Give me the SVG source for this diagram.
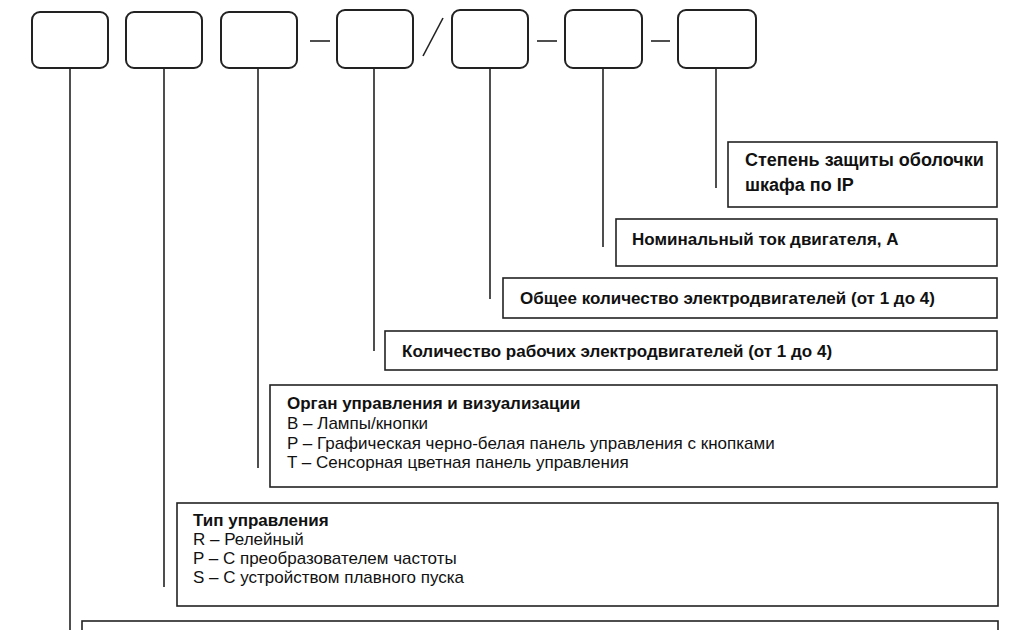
<svg xmlns="http://www.w3.org/2000/svg" width="1024" height="630" viewBox="0 0 1024 630">
<style>
.code{fill:#fff;stroke:#222;stroke-width:2}
.box{fill:#fff;stroke:#222;stroke-width:1.6}
.ln{stroke:#222;stroke-width:1.6;fill:none}
.b{font-family:"Liberation Sans",Arial,sans-serif;font-weight:bold;font-size:17px;fill:#111}
.big{font-size:18px}
.r{font-family:"Liberation Sans",Arial,sans-serif;font-size:17px;fill:#111}
</style>
<rect width="1024" height="630" fill="#fff"/>
<g id="code-boxes">
<rect id="c1" class="code" x="32" y="12" width="76" height="56" rx="8"/>
<rect id="c2" class="code" x="126" y="12" width="76" height="56" rx="8"/>
<rect id="c3" class="code" x="221" y="12" width="76" height="56" rx="8"/>
<rect id="c4" class="code" x="337" y="10" width="76" height="58" rx="8"/>
<rect id="c5" class="code" x="452" y="10" width="76" height="58" rx="8"/>
<rect id="c6" class="code" x="565" y="10" width="77" height="58" rx="8"/>
<rect id="c7" class="code" x="678" y="10" width="78" height="58" rx="8"/>
</g>
<g id="separators" class="ln" stroke-width="2">
<line x1="310" y1="41" x2="330" y2="41"/>
<line x1="423" y1="56" x2="443" y2="18"/>
<line x1="537" y1="41" x2="557" y2="41"/>
<line x1="651" y1="41" x2="670" y2="41"/>
</g>
<g id="connectors" class="ln">
<line x1="70" y1="68" x2="70" y2="630"/>
<line x1="164" y1="68" x2="164" y2="587"/>
<line x1="258" y1="68" x2="258" y2="468"/>
<line x1="374" y1="68" x2="374" y2="351"/>
<line x1="490" y1="68" x2="490" y2="299"/>
<line x1="603" y1="68" x2="603" y2="247"/>
<line x1="716" y1="68" x2="716" y2="188"/>
</g>
<g id="n-ip">
<rect class="box" x="728" y="142" width="269" height="65"/>
<text class="b big" x="745" y="166">Степень защиты оболочки</text>
<text class="b big" x="745" y="191">шкафа по IP</text>
</g>
<g id="n-current">
<rect class="box" x="616" y="219" width="381" height="47"/>
<text class="b" x="632" y="245">Номинальный ток двигателя, А</text>
</g>
<g id="n-total">
<rect class="box" x="503" y="278" width="494" height="40"/>
<text class="b" x="520" y="304">Общее количество электродвигателей (от 1 до 4)</text>
</g>
<g id="n-working">
<rect class="box" x="385" y="331" width="612" height="39"/>
<text class="b" x="402" y="357">Количество рабочих электродвигателей (от 1 до 4)</text>
</g>
<g id="n-control">
<rect class="box" x="270" y="385" width="727" height="102"/>
<text class="b" x="287" y="409">Орган управления и визуализации</text>
<text class="r" x="287" y="429">B – Лампы/кнопки</text>
<text class="r" x="287" y="449">P – Графическая черно-белая панель управления с кнопками</text>
<text class="r" x="287" y="468">T – Сенсорная цветная панель управления</text>
</g>
<g id="n-type">
<rect class="box" x="177" y="503" width="821" height="103"/>
<text class="b" x="193" y="526">Тип управления</text>
<text class="r" x="193" y="545">R – Релейный</text>
<text class="r" x="193" y="564">P – С преобразователем частоты</text>
<text class="r" x="193" y="583">S – С устройством плавного пуска</text>
</g>
<g id="n-bottom">
<rect class="box" x="82" y="621" width="916" height="40"/>
</g>
</svg>
